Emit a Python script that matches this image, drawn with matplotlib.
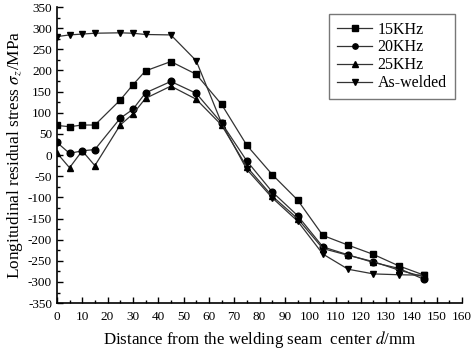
import numpy as np
import matplotlib
matplotlib.use("Agg")
import matplotlib.pyplot as plt
from matplotlib.ticker import MultipleLocator

# distance from the weld centre (mm)
distance = [0, 5, 10, 15, 25, 30, 35, 45, 55, 65, 75, 85, 95, 105, 115, 125, 135, 145]

# residual stress (MPa)
stress_15k = [70, 67, 71, 71, 130, 166, 199, 221, 191, 120, 23, -46, -106, -190, -213, -235, -262, -284]
stress_20k = [30, 4, 10, 13, 87, 108, 147, 174, 146, 76, -14, -87, -143, -217, -236, -254, -268, -294]
stress_25k = [5, -30, 10, -25, 71, 97, 134, 163, 132, 71, -28, -97, -150, -221, -237, -252, -272, -288]
stress_aswelded = [280, 284, 286, 288, 289, 288, 285, 284, 223, 76, -34, -101, -156, -234, -270, -281, -283, -284]

labels = ["15KHz", "20KHz", "25KHz", "As-welded"]
markers = ["s", "o", "^", "v"]

plt.rcParams['font.family'] = ['Liberation Serif', 'DejaVu Serif']
plt.rcParams['mathtext.fontset'] = 'stix'
plt.rcParams['axes.unicode_minus'] = False

fig = plt.figure(figsize=(4.74, 3.5), dpi=100)
ax = fig.add_axes([0.120, 0.134, 0.855, 0.846])

series = [stress_15k, stress_20k, stress_25k, stress_aswelded]
for vals, lab, m in zip(series, labels, markers):
    ax.plot(distance, vals, color='#333333', lw=0.9, marker=m, markersize=4.8,
            markerfacecolor='black', markeredgecolor='black', label=lab)

ax.set_xlim(0, 160)
ax.set_ylim(-350, 350)
ax.xaxis.set_major_locator(MultipleLocator(10))
ax.xaxis.set_minor_locator(MultipleLocator(5))
ax.yaxis.set_major_locator(MultipleLocator(50))
ax.yaxis.set_minor_locator(MultipleLocator(25))
ax.tick_params(which='both', direction='in', labelsize=9.5, width=1)
ax.tick_params(which='major', length=4)
ax.tick_params(which='minor', length=2)
ax.tick_params(axis='x', pad=6)

ax.spines['top'].set_visible(False)
ax.spines['right'].set_visible(False)
ax.spines['left'].set_linewidth(1.2)
ax.spines['bottom'].set_linewidth(1.2)

ax.set_xlabel("Distance from the welding seam  center $d$/mm", fontsize=12.2, labelpad=4)
ax.set_ylabel(r"Longitudinal residual stress $\sigma_z$/MPa", fontsize=12.4, labelpad=2)

leg = ax.legend(loc='upper right', bbox_to_anchor=(0.982, 0.978), fontsize=11.5,
                frameon=True, fancybox=False, edgecolor='#555555',
                handlelength=2.2, markerscale=0.8, borderpad=0.5, labelspacing=0.12,
                handletextpad=0.35, borderaxespad=0)
leg.get_frame().set_linewidth(1.0)

plt.savefig("out.png", dpi=100)
